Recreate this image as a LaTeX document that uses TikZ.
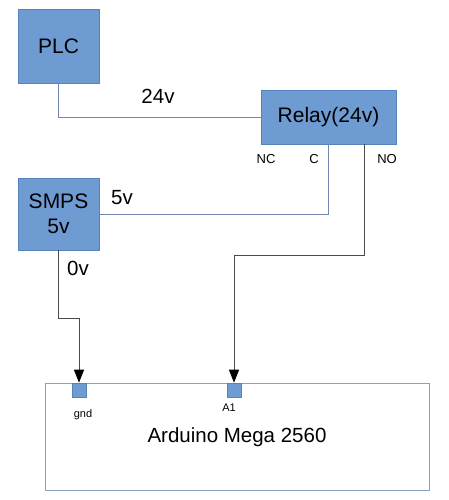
\documentclass[tikz,border=0pt]{standalone}
\usepackage{fontspec}
\setmainfont{Liberation Sans}
\usetikzlibrary{arrows.meta}
\definecolor{boxfill}{HTML}{6E9BD2}
\definecolor{boxline}{HTML}{5583BE}
\definecolor{wire}{HTML}{7187AD}
\definecolor{frame}{HTML}{8AA0BE}
\definecolor{dark}{HTML}{4A4A4A}
\tikzset{
  bluebox/.style={draw=boxline, fill=boxfill, line width=0.8pt, inner sep=0pt, font=\fontsize{21}{25}\selectfont, align=center},
  pin/.style={draw=boxline, fill=boxfill, line width=0.6pt, minimum width=14pt, minimum height=14pt, inner sep=0pt},
  wireline/.style={draw=wire, line width=0.9pt},
  sigline/.style={draw=dark, line width=0.9pt, -{Triangle[length=13pt,width=10pt,color=black]}},
  biglabel/.style={font=\fontsize{20.5}{24}\selectfont, inner sep=0pt},
  smalllabel/.style={font=\fontsize{13}{15}\selectfont, inner sep=0pt},
  tinylabel/.style={font=\fontsize{11}{13}\selectfont, inner sep=0pt}
}
\begin{document}
\begin{tikzpicture}[x=1pt,y=-1pt]
\useasboundingbox (0,0) rectangle (448,500);
\fill[white] (0,0) rectangle (448,500);
% boxes
\node[bluebox, minimum width=81pt, minimum height=74pt] (plc) at (58.5,46) {PLC};
\node[bluebox, minimum width=135pt, minimum height=54pt] (relay) at (328.5,117) {Relay(24v)};
\node[bluebox, minimum width=81pt, minimum height=72pt] (smps) at (58.5,214) {SMPS\\5v};
\node[draw=frame, fill=white, line width=0.8pt, minimum width=384pt, minimum height=107pt, inner sep=0pt] (ard) at (237,436.5) {};
\node[biglabel] (ardtxt) at (237,437) {Arduino Mega 2560};
\node[pin] (gnd) at (79,390) {};
\node[pin] (a1) at (234,390) {};
\node[tinylabel] (gndtxt) at (83,415) {gnd};
\node[tinylabel] (a1txt) at (229,408) {A1};
% labels
\node[biglabel] (l24) at (158,96) {24v};
\node[biglabel] (l5) at (122,198) {5v};
\node[biglabel] (l0) at (78,268) {0v};
\node[smalllabel] (lnc) at (266,159) {NC};
\node[smalllabel] (lc) at (314,159) {C};
\node[smalllabel] (lno) at (387,159) {NO};
% wires
\coordinate (cpin) at (328.5,144);
\coordinate (nopin) at (364,144);
\coordinate (nobend) at (364,255);
\coordinate (gbend) at (58.5,318);
\draw[wireline] (plc.south) |- (relay.west);
\draw[wireline] (cpin) |- (smps.east);
\draw[sigline] (nopin) -- (nobend) -| (a1.north);
\draw[sigline] (smps.south) -- (gbend) -| (gnd.north);
\end{tikzpicture}
\end{document}
